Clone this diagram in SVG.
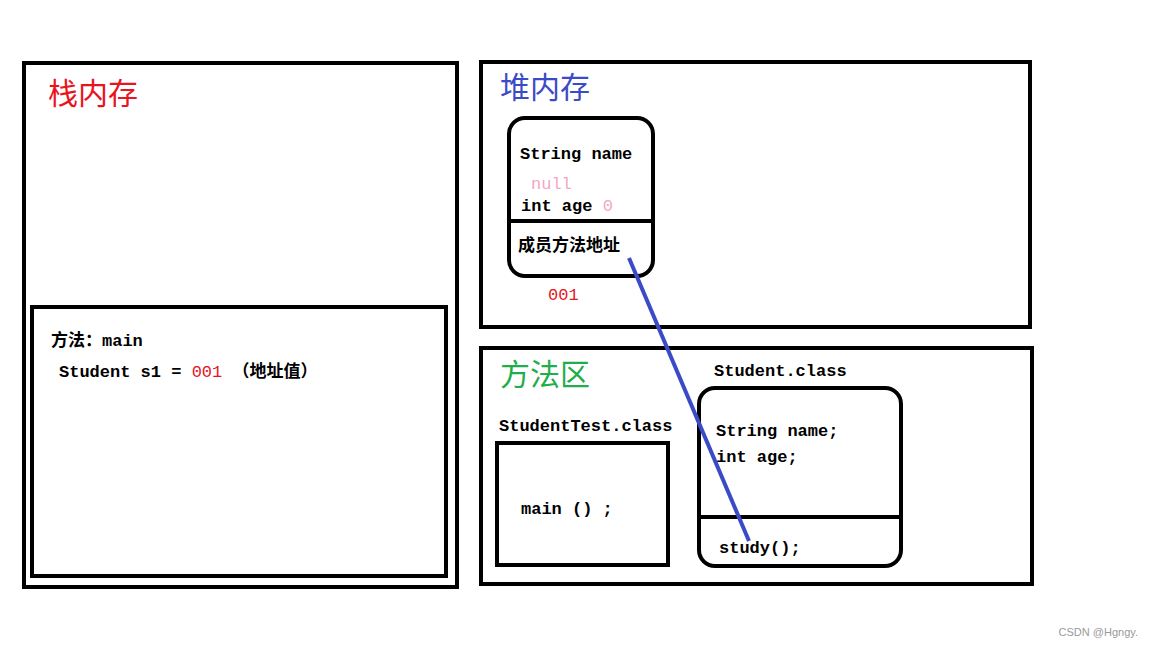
<svg xmlns="http://www.w3.org/2000/svg" width="1152" height="648" viewBox="0 0 1152 648">
<style>
.b{fill:none;stroke:#000;stroke-width:4}
.c{font-family:"Liberation Mono","Noto Sans CJK SC",monospace;font-size:17px;font-weight:bold;fill:#000}
.t{font-family:"Noto Sans CJK SC",serif;font-size:30px}
.red{fill:#e8141e;font-weight:normal}
.pink{fill:#f4a7c4;font-weight:normal}
</style>
<rect width="1152" height="648" fill="#fff"/>
<g id="stack">
<rect class="b" x="24" y="63" width="433" height="524"/>
<text class="t" x="48" y="104" fill="#e8141e">栈内存</text>
</g>
<g id="main-frame">
<rect class="b" x="32" y="307" width="414" height="269"/>
<text class="c" x="51" y="346">方法：main</text>
<text class="c" x="59" y="377">Student s1 =  <tspan class="red">001</tspan> （地址值）</text>
</g>
<g id="heap">
<rect class="b" x="481" y="62" width="549" height="265"/>
<text class="t" x="500" y="98" fill="#3b4bc8">堆内存</text>
</g>
<g id="object">
<rect class="b" x="509" y="118" width="144" height="158" rx="16"/>
<line class="b" x1="509" y1="221" x2="653" y2="221"/>
<text class="c" x="520" y="159">String name</text>
<text class="c pink" x="531" y="189">null</text>
<text class="c" x="521" y="211">int age <tspan class="pink">0</tspan></text>
<text class="c" x="518" y="251">成员方法地址</text>
<text class="c red" x="548" y="300">001</text>
</g>
<g id="method-area">
<rect class="b" x="481" y="348" width="551" height="236"/>
<text class="t" x="500" y="385" fill="#1fae4b">方法区</text>
</g>
<g id="studenttest">
<text class="c" x="499" y="431">StudentTest.class</text>
<rect class="b" x="497" y="443" width="171" height="122"/>
<text class="c" x="521" y="514">main () ;</text>
</g>
<g id="student">
<text class="c" x="714" y="376">Student.class</text>
<rect class="b" x="699" y="388" width="202" height="178" rx="16"/>
<line class="b" x1="699" y1="517" x2="901" y2="517"/>
<text class="c" x="716" y="436">String name;</text>
<text class="c" x="716" y="462">int age;</text>
<text class="c" x="719" y="553">study();</text>
</g>
<g id="connectors">
<line x1="629" y1="258" x2="749" y2="541" stroke="#3b4bc8" stroke-width="4"/>
</g>
<text x="1138" y="636" text-anchor="end" font-family="Liberation Sans,sans-serif" font-size="11" fill="#999">CSDN @Hgngy.</text>
</svg>
